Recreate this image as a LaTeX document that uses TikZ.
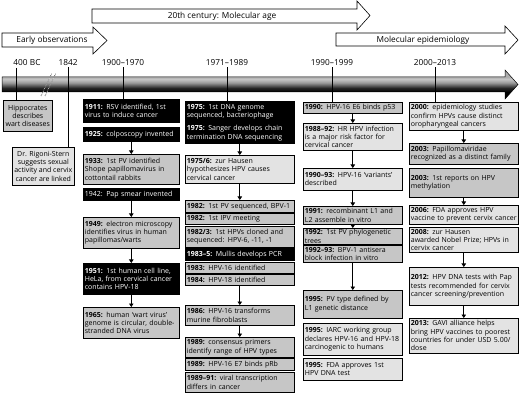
\documentclass[tikz,border=0pt]{standalone}
\usepackage{fontspec}
\setmainfont{Open Sans}
\usetikzlibrary{arrows.meta}
\pgfdeclareverticalshading{barshade}{100bp}{color(0bp)=(black); color(37bp)=(black); color(44bp)=(black!85); color(53bp)=(gray!80); color(59bp)=(gray!45); color(63bp)=(gray!65); color(100bp)=(gray!65)}
\begin{document}
\begin{tikzpicture}[x=1pt,y=-1pt,
  ev/.style={draw=black, line width=0.6pt, anchor=north west, align=left, inner xsep=1.6pt, inner ysep=0.5pt, font=\fontsize{7}{8.3}\selectfont},
  c1/.style={text width=92.8pt, minimum width=96pt},
  c2/.style={text width=105.8pt, minimum width=109pt},
  c3/.style={text width=95.8pt, minimum width=99pt},
  c4/.style={text width=105.8pt, minimum width=109pt},
  fillblk/.style={fill=black, text=white},
  fillmid/.style={fill=gray!45},
  filllt/.style={fill=gray!22},
  lbl/.style={font=\fontsize{8.3}{10}\selectfont, inner sep=1pt},
  outl/.style={draw=black, line width=0.6pt, fill=white},
  conn/.style={-{Triangle[length=3.5pt,width=4.5pt]}, line width=0.7pt},
  tick/.style={line width=0.6pt}
]
\useasboundingbox (0,0) rectangle (520,401);

% era arrows
\draw[outl] (92,9) -- (357,9) -- (357,1) -- (370,15.5) -- (357,30) -- (357,23) -- (92,23) -- cycle;
\node[lbl] (era20) at (222,16) {20th century: Molecular age};
\draw[outl] (2,33) -- (93,33) -- (93,27) -- (107,40.5) -- (93,54) -- (93,47) -- (2,47) -- cycle;
\node[lbl] (eraearly) at (52,40) {Early observations};
\draw[outl] (336,33) -- (505,33) -- (505,26) -- (518,40) -- (505,54) -- (505,46) -- (336,46) -- cycle;
\node[lbl] (eramol) at (423,40) {Molecular epidemiology};

% year labels
\node[lbl] (y400) at (27,63) {400 BC};
\node[lbl] (y1842) at (68,63) {1842};
\node[lbl] (y1900) at (123,63) {1900–1970};
\node[lbl] (y1971) at (227,63) {1971–1989};
\node[lbl] (y1990) at (332,63) {1990–1999};
\node[lbl] (y2000) at (435,63) {2000–2013};
\coordinate (k400) at (16,68);

% timeline bar
\shade[shading=barshade, draw=black, line width=0.5pt] (2,77) -- (505,77) -- (505,70) -- (518,84.5) -- (505,99) -- (505,92) -- (2,92) -- cycle;
\draw[densely dotted, line width=0.6pt] (41,96) -- (52,73) (45,96) -- (56,73);
\begin{scope}
\clip (2,77) rectangle (505,92);
\draw[densely dotted, line width=0.6pt, white] (41,96) -- (52,73) (45,96) -- (56,73);
\end{scope}

% early boxes
\node[ev, fillmid, align=center, minimum width=49pt, minimum height=31pt, inner xsep=1pt] (hip) at (3,100) {Hippocrates\\describes\\wart diseases};
\node[ev, filllt, align=center, minimum width=62pt, minimum height=38pt, inner xsep=1pt] (rig) at (12,147) {Dr. Rigoni-Stern\\suggests sexual\\activity and cervix\\cancer are linked};

% column 1
\node[ev, c1, fillblk, minimum height=23pt] (b1911) at (83,99) {\textbf{1911:} RSV identified, 1st\\virus to induce cancer};
\node[ev, c1, fillblk, minimum height=14pt] (b1925) at (83,127) {\textbf{1925:} colposcopy invented};
\node[ev, c1, fillmid, minimum height=30pt] (b1933) at (83,154) {\textbf{1933:} 1st PV identified\\Shope papillomavirus in\\cottontail rabbits};
\node[ev, c1, fillblk, minimum height=12pt] (b1942) at (83,188) {1942: Pap smear invented};
\node[ev, c1, fillmid, minimum height=31pt] (b1949) at (83,217) {\textbf{1949:} electron microscopy\\identifies virus in human\\papillomas/warts};
\node[ev, c1, fillblk, minimum height=31pt] (b1951) at (83,263) {\textbf{1951:} 1st human cell line,\\HeLa, from cervical cancer\\contains HPV-18};
\node[ev, c1, fillmid, minimum height=31pt] (b1965) at (83,307) {\textbf{1965:} human ‘wart virus’\\genome is circular, double-\\stranded DNA virus};

% column 2
\node[ev, c2, fillblk, minimum height=21pt] (b1975a) at (185,101) {\textbf{1975:} 1st DNA genome\\sequenced, bacteriophage};
\node[ev, c2, fillblk, minimum height=20pt] (b1975b) at (185,123) {\textbf{1975:} Sanger develops chain\\termination DNA sequencing};
\node[ev, c2, filllt, minimum height=28pt] (b1975c) at (185,155) {\textbf{1975/6:} zur Hausen\\hypothesizes HPV causes\\cervical cancer};
\node[ev, c2, fillmid, minimum height=12pt] (b1982a) at (185,200) {\textbf{1982:} 1st PV sequenced, BPV-1};
\node[ev, c2, fillmid, minimum height=11.5pt] (b1982b) at (185,213) {\textbf{1982:} 1st IPV meeting};
\node[ev, c2, fillmid, minimum height=21pt] (b1982c) at (185,226) {\textbf{1982/3:} 1st HPVs cloned and\\sequenced: HPV-6, -11, -1};
\node[ev, c2, fillblk, minimum height=12pt] (b1983a) at (185,248) {\textbf{1983–5:} Mullis develops PCR};
\node[ev, c2, fillmid, minimum height=10.5pt] (b1983b) at (185,262) {\textbf{1983:} HPV-16 identified};
\node[ev, c2, fillmid, minimum height=10.5pt] (b1984) at (185,274) {\textbf{1984:} HPV-18 identified};
\node[ev, c2, fillmid, minimum height=20pt] (b1986) at (185,305) {\textbf{1986:} HPV-16 transforms\\murine fibroblasts};
\node[ev, c2, fillmid, minimum height=20pt] (b1989a) at (185,337) {\textbf{1989:} consensus primers\\identify range of HPV types};
\node[ev, c2, fillmid, minimum height=12pt] (b1989b) at (185,358) {\textbf{1989:} HPV-16 E7 binds pRb};
\node[ev, c2, fillmid, minimum height=20pt] (b1989c) at (185,372) {\textbf{1989–91:} viral transcription\\differs in cancer};

% column 3
\node[ev, c3, fillmid, minimum height=11pt] (b1990a) at (303,102) {\textbf{1990:} HPV-16 E6 binds p53};
\node[ev, c3, filllt, minimum height=27pt] (b1988) at (303,123) {\textbf{1988–92:} HR HPV infection\\is a major risk factor for\\cervical cancer};
\node[ev, c3, filllt, minimum height=22pt] (b1990b) at (303,168) {\textbf{1990–93:} HPV-16 ‘variants’\\described};
\node[ev, c3, fillmid, minimum height=18pt] (b1991) at (303,206) {\textbf{1991:} recombinant L1 and\\L2 assemble in vitro};
\node[ev, c3, fillmid, minimum height=16pt] (b1992a) at (303,228) {\textbf{1992:} 1st PV phylogenetic\\trees};
\node[ev, c3, fillmid, minimum height=17pt] (b1992b) at (303,245) {\textbf{1992–93:} BPV-1 antisera\\block infection in vitro};
\node[ev, c3, fillmid, minimum height=28pt] (b1995a) at (303,290) {\textbf{1995:} PV type defined by\\L1 genetic distance};
\node[ev, c3, filllt, minimum height=32pt] (b1995b) at (303,323) {\textbf{1995:} IARC working group\\declares HPV-16 and HPV-18\\carcinogenic to humans};
\node[ev, c3, filllt, minimum height=22pt] (b1995c) at (303,358) {\textbf{1995:} FDA approves 1st\\HPV DNA test};

% column 4
\node[ev, c4, filllt, minimum height=28pt] (b2000) at (409,102) {\textbf{2000:} epidemiology studies\\confirm HPVs cause distinct\\oropharyngeal cancers};
\node[ev, c4, fillmid, minimum height=21pt] (b2003a) at (409,143) {\textbf{2003:} Papillomaviridae\\recognized as a distinct family};
\node[ev, c4, fillmid, minimum height=29pt] (b2003b) at (409,168) {\textbf{2003:} 1st reports on HPV\\methylation};
\node[ev, c4, filllt, minimum height=19pt] (b2006) at (409,205) {\textbf{2006:} FDA approves HPV\\vaccine to prevent cervix cancer};
\node[ev, c4, filllt, minimum height=25pt] (b2008) at (409,227) {\textbf{2008:} zur Hausen\\awarded Nobel Prize; HPVs in\\cervix cancer};
\node[ev, c4, filllt, minimum height=38pt] (b2012) at (409,267) {\textbf{2012:} HPV DNA tests with Pap\\tests recommended for cervix\\cancer screening/prevention};
\node[ev, c4, filllt, minimum height=35pt] (b2013) at (409,318) {\textbf{2013:} GAVI alliance helps\\bring HPV vaccines to poorest\\countries for under USD 5.00/\\dose};

% ticks
\draw[tick] (k400) -- (k400 |- hip.north);
\draw[tick] (y1842.south) -- (y1842.south |- rig.north);
\draw[tick] (y1900.south) -- (y1900.south |- b1911.north);
\draw[tick] (y1971.south) -- (y1971.south |- b1975a.north);
\draw[tick] (y1990.south) -- (y1990.south |- b1990a.north);
\draw[tick] (y2000.south) -- (y2000.south |- b2000.north);

% connectors
\foreach \a/\b in {b1925/b1933, b1942/b1949, b1949/b1951, b1951/b1965,
  b1975b/b1975c, b1975c/b1982a, b1984/b1986, b1986/b1989a,
  b1990a/b1988, b1988/b1990b, b1990b/b1991, b1991/b1992a, b1992b/b1995a,
  b2000/b2003a, b2003b/b2006, b2008/b2012, b2012/b2013}
  \draw[conn] (\a.south) -- (\b.north);
\end{tikzpicture}
\end{document}
